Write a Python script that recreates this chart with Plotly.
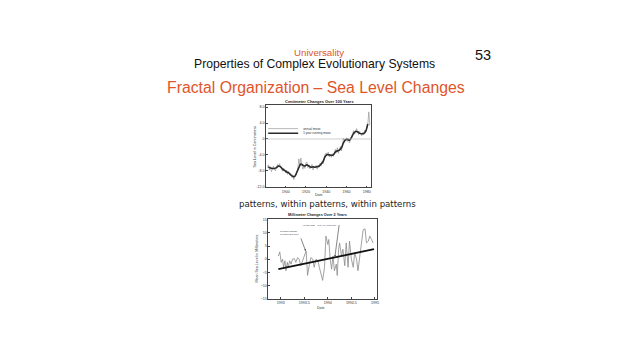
import plotly.graph_objects as go

# ---------------- data ----------------
# Chart 1: Centimeter Changes Over 100 Years
annual_years = list(range(1882, 1984))
annual_mean = [
    -7.2, -6.5, -7.8, -7.0, -8.2, -7.5, -6.8, -7.6,
    -8.0, -7.1, -6.4, -7.0, -6.2, -6.9, -7.4, -8.1, -7.3, -7.9,
    -8.5, -7.8, -8.9, -8.2, -9.1, -8.7, -9.6, -9.0, -10.2, -9.4,
    -9.0, -8.3, -7.5, -5.0, -6.8, -4.8, -6.5, -7.6, -6.9, -7.4,
    -6.0, -5.8, -7.2, -6.6, -7.5, -7.0, -6.4, -7.8, -6.9, -7.3,
    -6.6, -7.6, -6.8, -7.1, -6.0, -6.7, -5.5, -6.2, -4.8, -3.8,
    -3.5, -4.2, -3.3, -4.5, -3.9, -4.6, -3.7, -4.4, -3.6, -2.6,
    -3.4, -2.2, -3.6, -2.8, -1.9, -3.0, -1.2, 0.2, -0.5, -0.2,
    0.3, -0.6, 0.1, -1.0, -0.3, 0.5, 1.4, 2.1, 1.2, 1.8,
    2.6, 1.6, 1.1, 1.9, 1.4, 0.8, 1.6, 1.0, 2.2, 1.7,
    3.0, 3.6, 6.8, 3.4,
]
running_years = list(range(1883, 1982, 2))
running_mean = [
    -7.0, -7.3, -7.4, -7.4, -7.2, -6.8, -7.0, -7.6, -7.9, -8.3,
    -8.5, -9.0, -9.4, -9.4, -8.4, -7.2, -6.3, -6.6, -6.8, -6.5,
    -6.8, -7.1, -7.0, -7.1, -7.0, -6.8, -6.3, -5.6, -4.4, -3.9,
    -4.0, -4.1, -4.0, -3.3, -3.0, -2.8, -2.2, -1.0, -0.2, -0.1,
    -0.3, 0.4, 1.4, 1.9, 1.8, 1.4, 1.3, 1.4, 2.0, 3.8,
]
cm_ticks = [-12, -8, -4, 0, 4, 8]
cm_tick_labels = ["-12.0", "-8.0", "-4.0", "0", "4.0", "8.0"]
year_ticks = [1900, 1920, 1940, 1960, 1980]

# Chart 2: Millimeter Changes Over 2 Years
mm_dates = [
    1992.95, 1992.98, 1993.01, 1993.04, 1993.06, 1993.09, 1993.11, 1993.14,
    1993.16, 1993.19, 1993.22, 1993.25, 1993.29, 1993.32, 1993.36, 1993.39,
    1993.43, 1993.46, 1993.50, 1993.54, 1993.57, 1993.61, 1993.64, 1993.68,
    1993.71, 1993.75, 1993.79, 1993.82, 1993.86, 1993.89, 1993.93, 1993.96,
    1994.00, 1994.02, 1994.05, 1994.08, 1994.11, 1994.14, 1994.18, 1994.20,
    1994.23, 1994.25, 1994.29, 1994.32, 1994.36, 1994.39, 1994.43, 1994.46,
    1994.50, 1994.54, 1994.57, 1994.61, 1994.64, 1994.68, 1994.71, 1994.75,
    1994.79, 1994.82, 1994.86, 1994.89, 1994.93, 1994.96,
]
mm_values = [
    1.2, 2.8, -1.2, 0.0, -3.1, -0.6, -4.4, -1.2,
    -3.1, -0.6, -1.9, 0.0, 0.2, -1.2, 0.6, 0.0,
    -2.5, -0.6, 1.2, 3.1, -6.2, -1.9, 0.6, 0.0,
    -3.1, 0.0, -0.6, -3.1, -5.6, -8.1, -3.1, 8.8,
    5.6, 7.5, 0.0, -3.8, 1.2, -4.4, -1.9, -6.2,
    3.8, 6.2, 1.2, 3.8, -2.5, 6.2, -3.1, 6.9,
    0.0, -3.1, 2.5, 0.0, -4.4, 0.6, 6.2, 11.2,
    11.6, 6.2, 6.9, 8.8, 7.5, 6.2,
]
trend_dates = [1992.95, 1994.98]
trend_values = [-3.8, 3.8]
mm_ticks = [-15, -10, -5, 0, 5, 10, 15]
date_ticks = [1993, 1993.5, 1994, 1994.5, 1995]
date_tick_labels = ["1993", "1993.5", "1994", "1994.5", "1995"]

# ---------------- figure ----------------
W, H = 638, 359
ORANGE = "#E0552A"
FONT = "Liberation Sans, Arial, sans-serif"

def px(x):
    return x / W

def py(y):
    return 1 - y / H

fig = go.Figure()

fig.add_trace(go.Scatter(
    x=annual_years, y=annual_mean, mode="lines", name="annual mean",
    line=dict(color="#8a8a8a", width=0.6), xaxis="x", yaxis="y",
    legend="legend",
))
fig.add_trace(go.Scatter(
    x=running_years, y=running_mean, mode="lines", name="5 year running mean",
    line=dict(color="#2a2a2a", width=1.6, shape="spline"), xaxis="x", yaxis="y",
    legend="legend2",
))
fig.add_trace(go.Scatter(
    x=mm_dates, y=mm_values, mode="lines", showlegend=False,
    line=dict(color="#8a8a8a", width=0.8), xaxis="x2", yaxis="y2",
))
fig.add_trace(go.Scatter(
    x=trend_dates, y=trend_values, mode="lines", showlegend=False,
    line=dict(color="#111111", width=1.8), xaxis="x2", yaxis="y2",
))

axis_common = dict(
    showgrid=False, zeroline=False, showline=True, linecolor="#444",
    linewidth=0.8, mirror=True, ticks="inside", ticklen=2, tickcolor="#444",
    tickwidth=0.6, tickfont=dict(family=FONT, size=3.6, color="#333"),
)

fig.update_layout(
    width=W, height=H,
    margin=dict(l=0, r=0, t=0, b=0),
    paper_bgcolor="white", plot_bgcolor="white",
    xaxis=dict(domain=[px(267), px(372.5)], range=[1880.8, 1984.5],
               tickvals=year_ticks, anchor="y", **axis_common),
    yaxis=dict(domain=[py(188), py(105)], range=[-12.17, 8.5],
               tickvals=cm_ticks, ticktext=cm_tick_labels, anchor="x",
               **axis_common),
    xaxis2=dict(domain=[px(269.3), px(378)], range=[1992.74, 1995.04],
                tickvals=date_ticks, ticktext=date_tick_labels, anchor="y2",
                **axis_common),
    yaxis2=dict(domain=[py(300.7), py(220)], range=[-15.26, 15.26],
                tickvals=mm_ticks, anchor="x2", **axis_common),
    legend=dict(x=px(264), y=py(128.7), xanchor="left", yanchor="middle",
                bgcolor="rgba(0,0,0,0)", itemwidth=30,
                font=dict(family=FONT, size=3, color="#333")),
    legend2=dict(x=px(264), y=py(133.4), xanchor="left", yanchor="middle",
                 bgcolor="rgba(0,0,0,0)", itemwidth=30,
                 font=dict(family=FONT, size=3, color="#333")),
)

# zero reference line in chart 1
fig.add_shape(type="line", xref="x domain", yref="y", x0=0, x1=1, y0=0, y1=0,
              line=dict(color="#bbbbbb", width=0.7))

annotations = [
    dict(text="Universality", x=px(320), y=py(52),
         font=dict(family=FONT, size=9.7, color=ORANGE)),
    dict(text="Properties of Complex Evolutionary Systems", x=px(315.5), y=py(63.5),
         font=dict(family=FONT, size=12.2, color="#111")),
    dict(text="53", x=px(484.7), y=py(54),
         font=dict(family=FONT, size=14.5, color="#111")),
    dict(text="Fractal Organization \u2013 Sea Level Changes", x=px(317), y=py(87),
         font=dict(family=FONT, size=15.8, color=ORANGE)),
    dict(text="patterns, within patterns, within patterns", x=px(328.5), y=py(205),
         font=dict(family="DejaVu Sans, sans-serif", size=8.6, color="#222")),
    dict(text="<b>Centimeter Changes Over 100 Years</b>", x=px(321), y=py(101),
         font=dict(family=FONT, size=4, color="#222")),
    dict(text="<b>Millimeter Changes Over 2 Years</b>", x=px(318), y=py(216),
         font=dict(family=FONT, size=3.8, color="#222")),
    dict(text="Date", x=px(320), y=py(196),
         font=dict(family=FONT, size=3.6, color="#333")),
    dict(text="Date", x=px(322), y=py(310),
         font=dict(family=FONT, size=3.6, color="#333")),
    dict(text="Sea Level in Centimeters", x=px(255.5), y=py(147), textangle=-90,
         font=dict(family=FONT, size=3.7, color="#333")),
    dict(text="Mean Sea Level in Millimeters", x=px(257.5), y=py(260), textangle=-90,
         font=dict(family=FONT, size=3.6, color="#333")),
]
for a in annotations:
    fig.add_annotation(xref="paper", yref="paper", showarrow=False,
                       xanchor="center", yanchor="middle", **a)

fig.add_annotation(
    xref="x2", yref="y2", axref="x2", ayref="y2",
    x=1993.53, y=3.1, ax=1993.43, ay=7.9,
    text="Periodic change<br>in mean sea level", align="left",
    xanchor="right", yanchor="bottom",
    showarrow=True, arrowhead=2, arrowsize=0.6, arrowwidth=0.6, arrowcolor="#333",
    font=dict(family=FONT, size=2.4, color="#333"),
)
fig.add_annotation(
    xref="x2", yref="y2", axref="x2", ayref="y2",
    x=1994.15, y=0.9, ax=1994.24, ay=13.0,
    text="Average Rate = 3.5 (\u00b10.4 Mm/year)",
    xanchor="right", yanchor="middle",
    showarrow=True, arrowhead=2, arrowsize=0.6, arrowwidth=0.6, arrowcolor="#333",
    font=dict(family=FONT, size=2.2, color="#333"),
)

fig.write_html(
    "out.html",
    config={"displayModeBar": False},
    post_script="document.body.style.margin='0';document.body.style.overflow='hidden';",
)
